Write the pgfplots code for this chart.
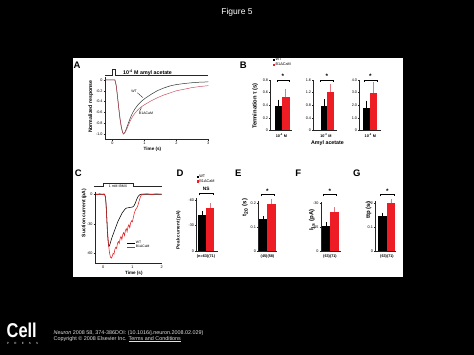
\documentclass[border=0pt]{standalone}
\usepackage{fontspec}
\setmainfont{Liberation Sans}
\usepackage{pgfplots}
\pgfplotsset{compat=1.18}

\definecolor{wtA}{HTML}{2E3A34}
\definecolor{redA}{HTML}{C8465A}
\definecolor{barred}{HTML}{EE1C24}
\definecolor{errred}{HTML}{E07A84}
\definecolor{redC}{HTML}{E02020}

\newcommand{\tk}{\fontsize{3.8}{4}\selectfont}

\pgfplotsset{
  panel/.style={scale only axis, anchor=south west, clip=false,
    axis x line*=bottom, axis y line*=left,
    axis line style={-, line width=0.35pt, black!85},
    tick align=outside, major tick length=1.4pt,
    tick style={line width=0.35pt, black!85},
    tick label style={font=\tk, inner sep=0.8pt},
    /pgf/number format/assume math mode=true},
  barpanel/.style={panel, xmin=0, xtick=\empty, ymin=0},
  bk/.style={ybar, bar shift=0pt, fill=black, draw=none,
    error bars/y dir=plus, error bars/y explicit,
    error bars/error bar style={line width=0.4pt, black},
    error bars/error mark options={mark size=1.2pt, line width=0.4pt, black}},
  rd/.style={ybar, bar shift=0pt, fill=barred, draw=none,
    error bars/y dir=plus, error bars/y explicit,
    error bars/error bar style={line width=0.4pt, errred},
    error bars/error mark options={mark size=1.2pt, line width=0.4pt, errred}},
  sqlegend/.style={legend image code/.code={\draw[##1, draw=none] (0pt,-1.1pt) rectangle (2.3pt,1.1pt);},
    legend style={draw=none, fill=none, font=\tk, inner sep=0pt, outer sep=0pt, row sep=-0.6pt,
      nodes={inner sep=0.6pt}}, legend cell align=left},
  lnlegend/.style={legend image code/.code={\draw[##1] (0pt,0pt) -- (8pt,0pt);},
    legend style={draw=none, fill=none, font=\fontsize{3.4}{4}\selectfont, inner sep=0pt, row sep=-0.8pt,
      nodes={inner sep=0.6pt}}, legend cell align=left},
}

\begin{document}
\begin{tikzpicture}[x=1pt,y=1pt]
\fill[black] (0,0) rectangle (474,355);
\path[use as bounding box] (0,0) rectangle (474,355);
\fill[white] (73,78) rectangle (403,297);

\node[white, font=\fontsize{8.5}{9}\selectfont] at (237,343) {Figure 5};

% panel letters
\begin{scope}[font=\fontsize{9.5}{10}\selectfont\bfseries]
\node at (77,290) {A};
\node at (243.3,289.7) {B};
\node at (78.3,181.7) {C};
\node at (180,181.7) {D};
\node at (238.3,181.7) {E};
\node at (298.3,181.7) {F};
\node at (356.7,181.7) {G};
\end{scope}

% ---------------- Panel A
\begin{axis}[panel, at={(105pt,215.6pt)}, width=103.3pt, height=62.1pt,
  xmin=-0.23, xmax=3, ymin=-1.1, ymax=0.05,
  xtick={0,1,2,3},
  ytick={-1,-0.8,-0.6,-0.4,-0.2,0}, yticklabels={-1.0,-0.8,-0.6,-0.4,-0.2,0}]
\addplot[black!85, line width=0.45pt] coordinates {(-0.23,0.093) (0,0.093) (0,0.2) (0.1,0.2) (0.1,0.093) (3,0.093)};
\addplot[wtA, line width=0.5pt] coordinates {(-0.23,0) (0.08,0) (0.12,-0.1) (0.16,-0.3) (0.2,-0.52) (0.24,-0.72) (0.28,-0.87) (0.32,-0.97) (0.35,-1.0) (0.4,-0.96) (0.45,-0.88) (0.5,-0.8) (0.55,-0.72) (0.6,-0.65) (0.65,-0.59) (0.7,-0.54) (0.8,-0.46) (0.9,-0.4) (1.0,-0.35) (1.2,-0.27) (1.4,-0.2) (1.6,-0.15) (1.8,-0.11) (2.0,-0.085) (2.25,-0.065) (2.5,-0.05) (2.75,-0.04) (3.0,-0.035)};
\addplot[redA, line width=0.45pt] coordinates {(-0.23,0) (0.08,0) (0.12,-0.1) (0.16,-0.3) (0.2,-0.52) (0.24,-0.72) (0.28,-0.87) (0.32,-0.97) (0.35,-1.0) (0.4,-0.97) (0.45,-0.91) (0.5,-0.84) (0.55,-0.77) (0.6,-0.71) (0.65,-0.66) (0.7,-0.62) (0.8,-0.55) (0.9,-0.5) (1.0,-0.46) (1.2,-0.39) (1.4,-0.33) (1.6,-0.28) (1.8,-0.24) (2.0,-0.2) (2.25,-0.17) (2.5,-0.14) (2.75,-0.12) (3.0,-0.105)};
\end{axis}
\node[font=\fontsize{5.3}{6}\selectfont\bfseries] at (147.5,282.5) {10\textsuperscript{-4} M amyl acetate};
\node[rotate=90, font=\fontsize{5.2}{6}\selectfont\bfseries] at (90.7,248.3) {Normalized response};
\node[font=\fontsize{4.6}{5}\selectfont\bfseries] at (152.5,206) {Time (s)};
\node[font=\fontsize{3.5}{4}\selectfont] at (134,263.3) {WT};
\draw[line width=0.3pt] (137.4,262.2) -- (143,257.3);
\node[font=\fontsize{3.5}{4}\selectfont] at (146,242) {B1ΔCaM};
\draw[line width=0.3pt] (139.5,243.6) -- (141.5,247.4);

% ---------------- Panel B
\begin{axis}[barpanel, sqlegend, at={(270.5pt,224.5pt)}, width=21pt, height=50.5pt, xmax=21, ymax=0.8,
  ytick={0,0.2,0.4,0.6,0.8}, yticklabels={0,0.2,0.4,0.6,0.8},
  legend style={at={(axis cs:2.2,1.16)}, anchor=north west}]
\addplot[bk, bar width=7.2] coordinates {(7.6,0.39) +- (0,0.08)};
\addplot[rd, bar width=7.8] coordinates {(15.1,0.53) +- (0,0.11)};
\legend{WT, B1ΔCaM}
\end{axis}
\begin{axis}[barpanel, at={(313.5pt,224.5pt)}, width=23pt, height=50.5pt, xmax=23, ymax=1.6,
  ytick={0,0.4,0.8,1.2,1.6}, yticklabels={0,0.4,0.8,1.2,1.6}]
\addplot[bk, bar width=6.6] coordinates {(10.5,0.77) +- (0,0.18)};
\addplot[rd, bar width=6.7] coordinates {(17.15,1.23) +- (0,0.2)};
\end{axis}
\begin{axis}[barpanel, at={(359.5pt,224.5pt)}, width=21pt, height=50.5pt, xmax=21, ymax=4,
  ytick={0,1,2,3,4}, yticklabels={0,1.0,2.0,3.0,4.0}]
\addplot[bk, bar width=6.7] coordinates {(7.15,1.78) +- (0,0.5)};
\addplot[rd, bar width=7.3] coordinates {(14.15,3.0) +- (0,0.75)};
\end{axis}
\begin{scope}[line width=0.35pt]
\draw (277,273) -- (277,275) -- (289,275) -- (289,273);
\draw (320.5,273) -- (320.5,275) -- (333.3,275) -- (333.3,273);
\draw (363.8,273) -- (363.8,275) -- (377.3,275) -- (377.3,273);
\end{scope}
\begin{scope}[font=\fontsize{6.5}{7}\selectfont\bfseries]
\node at (283,278.5) {*};
\node at (326.9,278.5) {*};
\node at (370.5,278.5) {*};
\end{scope}
\begin{scope}[font=\fontsize{3.8}{4}\selectfont\bfseries]
\node at (281.5,219.3) {10\textsuperscript{-4} M};
\node at (326,219.3) {10\textsuperscript{-3} M};
\node at (370.3,219.3) {10\textsuperscript{-2} M};
\end{scope}
\node[font=\fontsize{5.3}{6}\selectfont\bfseries] at (327.5,212) {Amyl acetate};
\node[rotate=90, font=\fontsize{5.8}{6}\selectfont\bfseries] at (255,249) {Termination τ (s)};

% ---------------- Panel C
\begin{axis}[panel, lnlegend, at={(95pt,91.9pt)}, width=66.6pt, height=70.8pt,
  xmin=-0.28, xmax=2, ymin=-70, ymax=2,
  xtick={0,1,2}, ytick={-60,-30,0}, yticklabels={-60,-30,0},
  legend style={at={(axis cs:0.8,-47)}, anchor=north west}]
\addplot[black!85, line width=0.4pt, forget plot] coordinates {(-0.32,8.7) (0,8.7) (0,11.2) (1.02,11.2) (1.02,8.7) (2,8.7)};
\addplot[black, line width=0.55pt] coordinates {(-0.28,0) (0.05,0) (0.08,-3) (0.1,-10) (0.12,-22) (0.14,-35) (0.16,-45) (0.18,-51) (0.2,-53) (0.23,-51) (0.27,-47) (0.3,-44) (0.35,-40) (0.4,-36) (0.45,-32) (0.5,-28) (0.55,-25) (0.6,-22) (0.65,-19) (0.7,-17) (0.75,-15) (0.8,-14) (0.9,-13.5) (1.0,-13) (1.05,-12) (1.1,-9) (1.15,-5) (1.2,-2) (1.25,-0.5) (1.3,0) (2.0,0)};
\addplot[redC, line width=0.55pt] coordinates {(-0.28,0.5) (-0.2,-0.5) (-0.12,0.6) (-0.04,-0.4) (0.02,0.3) (0.05,0) (0.08,-4) (0.1,-12) (0.13,-28) (0.16,-42) (0.19,-53) (0.22,-60) (0.25,-64) (0.28,-65) (0.31,-63) (0.34,-60) (0.37,-61) (0.4,-56) (0.43,-54) (0.46,-55) (0.49,-50) (0.52,-48) (0.55,-50) (0.58,-45) (0.61,-43) (0.64,-46) (0.67,-41) (0.7,-39) (0.73,-42) (0.76,-37) (0.79,-35) (0.82,-38) (0.85,-33) (0.88,-31) (0.91,-34) (0.94,-29) (0.97,-27) (1.0,-28) (1.03,-24) (1.06,-20) (1.09,-17) (1.12,-15) (1.15,-14) (1.18,-12) (1.21,-9) (1.24,-6) (1.27,-3) (1.3,-1) (1.35,0) (1.5,0.5) (1.65,-0.4) (1.8,0.4) (2.0,0)};
\legend{WT, B1ΔCaM}
\end{axis}
\node[font=\fontsize{3.5}{4}\selectfont] at (118,169) {1 mM IBMX};
\node[rotate=90, font=\fontsize{5}{6}\selectfont\bfseries] at (84,142) {Suction current (pA)};
\node[font=\fontsize{4.6}{5}\selectfont\bfseries] at (133.8,81.7) {Time (s)};

% ---------------- Panels D-G
\begin{axis}[barpanel, sqlegend, at={(196.5pt,104.3pt)}, width=21.8pt, height=52.4pt, xmax=21.8, ymax=62,
  ytick={0,30,60}, yticklabels={0,-30,-60},
  legend style={at={(axis cs:0,90.5)}, anchor=north west}]
\addplot[bk, bar width=7.7] coordinates {(5.65,42) +- (0,4)};
\addplot[rd, bar width=8] coordinates {(13.5,51) +- (0,4)};
\legend{WT, B1ΔCaM}
\end{axis}
\begin{axis}[barpanel, at={(258.3pt,104.3pt)}, width=19pt, height=49.8pt, xmax=19, ymax=0.21,
  ytick={0,0.1,0.2}, yticklabels={0,0.1,0.2}]
\addplot[bk, bar width=8] coordinates {(5,0.132) +- (0,0.01)};
\addplot[rd, bar width=8.4] coordinates {(13.2,0.198) +- (0,0.016)};
\end{axis}
\begin{axis}[barpanel, at={(321pt,104.3pt)}, width=19.5pt, height=49pt, xmax=19.5, ymax=31,
  ytick={0,15,30}, yticklabels={0,-15,-30}]
\addplot[bk, bar width=8.3] coordinates {(5.15,15.5) +- (0,2)};
\addplot[rd, bar width=8.4] coordinates {(13.45,24.5) +- (0,2.2)};
\end{axis}
\begin{axis}[barpanel, at={(375.3pt,104.3pt)}, width=21pt, height=49.8pt, xmax=21, ymax=0.21,
  ytick={0,0.1,0.2}, yticklabels={0,0.1,0.2}]
\addplot[bk, bar width=8.3] coordinates {(7.25,0.148) +- (0,0.008)};
\addplot[rd, bar width=8.3] coordinates {(15.55,0.2) +- (0,0.012)};
\end{axis}
\begin{scope}[line width=0.35pt]
\draw (199.3,159.5) -- (199.3,161.7) -- (213.3,161.7) -- (213.3,159.5);
\draw (261,158.5) -- (261,160.7) -- (274,160.7) -- (274,158.5);
\draw (323.5,158.5) -- (323.5,160.7) -- (336.5,160.7) -- (336.5,158.5);
\draw (380.3,158.5) -- (380.3,160.7) -- (394.3,160.7) -- (394.3,158.5);
\end{scope}
\node[font=\fontsize{4.8}{5}\selectfont\bfseries] at (206.3,166) {NS};
\begin{scope}[font=\fontsize{6.5}{7}\selectfont\bfseries]
\node at (267.5,164) {*};
\node at (330,164) {*};
\node at (387.3,164) {*};
\end{scope}
\begin{scope}[font=\fontsize{3.8}{4}\selectfont\bfseries]
\node at (206,98.3) {(n=63)(71)};
\node at (267.5,98.3) {(45)(58)};
\node at (330,98.3) {(63)(71)};
\node at (387,98.3) {(63)(71)};
\end{scope}
\node[rotate=90, font=\fontsize{4.6}{5}\selectfont\bfseries] at (178.5,125) {Peak current (pA)};
\begin{scope}[font=\fontsize{6}{6}\selectfont\bfseries]
\node[rotate=90] at (245,147.5) {t\textsubscript{20} (s)};
\node[rotate=90] at (312,135) {I\textsubscript{1s} (pA)};
\node[rotate=90] at (368.5,145) {ttp (s)};
\end{scope}

% ---------------- Footer
\node[white, anchor=base west, font=\fontsize{20}{20}\selectfont\bfseries, xscale=0.82, inner sep=0pt] at (6.5,17) {Cell};
\node[white, anchor=base west, font=\fontsize{3}{3}\selectfont, inner sep=0pt] at (7,10.8) {\makebox[31pt][s]{P\hfill R\hfill E\hfill S\hfill S}};
\node[white!88!black, anchor=west, font=\fontsize{5.4}{6}\selectfont, inner sep=0pt] at (53.5,21.7) {\textit{Neuron} 2008 58, 374-386DOI: (10.1016/j.neuron.2008.02.029)};
\node[white!88!black, anchor=west, font=\fontsize{5.4}{6}\selectfont, inner sep=0pt] at (53.5,15.7) {Copyright © 2008 Elsevier Inc. \underline{Terms and Conditions}};
\end{tikzpicture}
\end{document}
